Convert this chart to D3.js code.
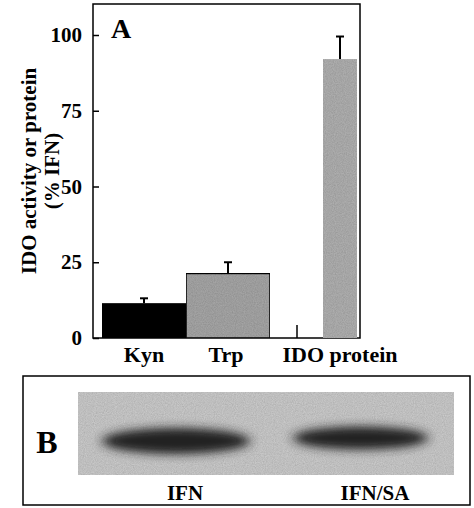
<!DOCTYPE html>
<html><head><meta charset="utf-8">
<script src="https://cdn.jsdelivr.net/npm/d3@7"></script>
<style>body{margin:0;background:#fff}text{font-family:"Liberation Serif",serif;font-weight:bold}</style>
</head><body><svg id="c" width="474" height="508"></svg>
<script>
const categories = ["Kyn","Trp","IDO protein"];
const values = [11.5, 21.3, 92];
const errors = [1.6, 3.7, 7.5];
const fills = ["#000","#aaa","#b4b4b4"];
const yTicks = [0,25,50,75,100];
const blotLabels = ["IFN","IFN/SA"];

const svg = d3.select("#c");
const defs = svg.append("defs");
const f = defs.append("filter").attr("id","noise").attr("x",0).attr("y",0).attr("width","100%").attr("height","100%");
f.append("feTurbulence").attr("type","fractalNoise").attr("baseFrequency",0.9).attr("numOctaves",2).attr("result","n");
f.append("feColorMatrix").attr("in","n").attr("type","matrix").attr("values","0 0 0 0 0  0 0 0 0 0  0 0 0 0 0  0 0 0 0.35 0").attr("result","m");
f.append("feComposite").attr("in","m").attr("in2","SourceGraphic").attr("operator","atop").attr("result","c");
f.append("feMerge").selectAll("x").data(["SourceGraphic","c"]).enter().append("feMergeNode").attr("in",d=>d);
const blur = defs.append("filter").attr("id","blur").attr("x","-20%").attr("y","-50%").attr("width","140%").attr("height","200%");
blur.append("feGaussianBlur").attr("stdDeviation","6 5");

const L=93, R=360, T=4, B=338;
const y = d3.scaleLinear().domain([0,100]).range([B,35]);
const x = d3.scaleOrdinal().domain(categories).range([[102,186],[186,270],[323,357]]);

svg.append("rect").attr("x",L).attr("y",T).attr("width",R-L).attr("height",B-T).attr("fill","none").attr("stroke","#000").attr("stroke-width",1.5);

categories.forEach((c,i)=>{
  const [x0,x1]=x(c), cx=(x0+x1)/2;
  svg.append("line").attr("x1",cx).attr("x2",cx).attr("y1",y(values[i])).attr("y2",y(values[i]+errors[i])).attr("stroke","#000").attr("stroke-width",2);
  svg.append("line").attr("x1",cx-4).attr("x2",cx+4).attr("y1",y(values[i]+errors[i])).attr("y2",y(values[i]+errors[i])).attr("stroke","#000").attr("stroke-width",2);
  svg.append("rect").attr("x",x0).attr("y",y(values[i])).attr("width",x1-x0).attr("height",B-y(values[i]))
    .attr("fill",fills[i]).attr("filter",i?"url(#noise)":null)
    .attr("stroke",i===1?"#000":"none").attr("stroke-width",1.5);
});
svg.append("line").attr("x1",297).attr("x2",297).attr("y1",B-13).attr("y2",B).attr("stroke","#000").attr("stroke-width",1.5);

const ax = svg.append("g").attr("transform",`translate(${L},0)`).call(d3.axisLeft(y).tickValues(yTicks).tickSize(6).tickPadding(5));
ax.select(".domain").remove();
ax.selectAll("line").attr("stroke-width",1.5).attr("transform","translate(6,0)");
ax.selectAll("text").attr("font-size",21).attr("font-family","Liberation Serif").attr("font-weight","bold").attr("fill","#000");

svg.append("text").attr("x",111).attr("y",38).attr("font-size",28).text("A");
svg.append("text").attr("transform","translate(36,171) rotate(-90)").attr("text-anchor","middle").attr("font-size",21).text("IDO activity or protein");
svg.append("text").attr("transform","translate(59,171) rotate(-90)").attr("text-anchor","middle").attr("font-size",21).text("(% IFN)");
[["Kyn",144],["Trp",226],["IDO protein",340]].forEach(([t,cx])=>svg.append("text").attr("x",cx).attr("y",362).attr("text-anchor","middle").attr("font-size",22).text(t));

// Panel B
svg.append("rect").attr("x",23).attr("y",376).attr("width",447).attr("height",129).attr("fill","#fff").attr("stroke","#000").attr("stroke-width",1.5);
svg.append("rect").attr("x",78).attr("y",392).attr("width",376).attr("height",83).attr("fill","#cfcfcf").attr("filter","url(#noise)");
const bands=[[102,250,441,20],[293,428,438,17]];
bands.forEach(b=>svg.append("ellipse").attr("cx",(b[0]+b[1])/2).attr("cy",b[2]).attr("rx",(b[1]-b[0])/2).attr("ry",b[3]/2+3).attr("fill","#222").attr("filter","url(#blur)"));
svg.append("text").attr("x",47).attr("y",453).attr("text-anchor","middle").attr("font-size",32).text("B");
[[blotLabels[0],185],[blotLabels[1],375]].forEach(([t,cx])=>svg.append("text").attr("x",cx).attr("y",500).attr("text-anchor","middle").attr("font-size",21).text(t));
</script></body></html>
